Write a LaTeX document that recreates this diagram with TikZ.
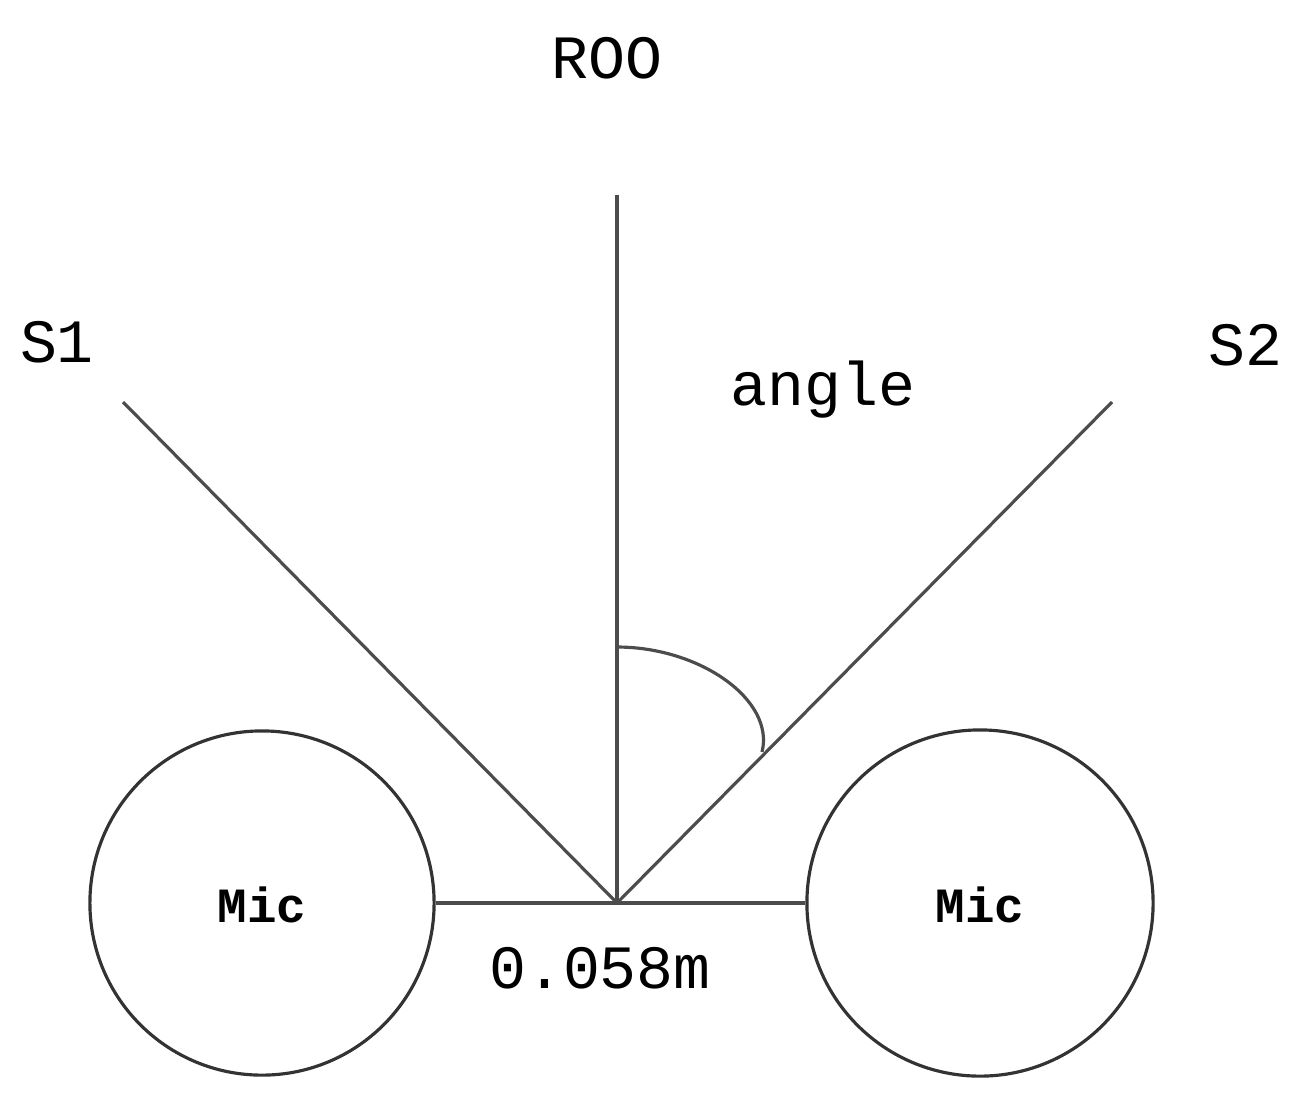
\documentclass[tikz,border=0pt]{standalone}
\usepackage{fontspec}
\setmonofont{Liberation Mono}
\begin{document}
\begin{tikzpicture}[x=0.01cm,y=-0.01cm,
  ln/.style={draw=black!70,line width=0.9pt},
  lbl/.style={font=\ttfamily\fontsize{17.5}{17.5}\selectfont,inner sep=0pt},
  mic/.style={font=\ttfamily\bfseries\fontsize{14}{14}\selectfont,inner sep=0pt}]
\useasboundingbox (0,0) rectangle (1304,1096);
\coordinate (c) at (617,903);
\coordinate (top) at (617,195);
\coordinate (s1e) at (123,402);
\coordinate (s2e) at (1112,402);
\coordinate (a1) at (617,647);
\coordinate (a2) at (762,752);
\node[circle,draw=black!80,line width=0.9pt,inner sep=0pt,minimum size=3.44cm] (m1) at (262,903) {};
\node[circle,draw=black!80,line width=0.9pt,inner sep=0pt,minimum size=3.46cm] (m2) at (980,903) {};
\draw[ln] (top) -- (c);
\draw[ln] (s1e) -- (c);
\draw[ln] (s2e) -- (c);
\draw[ln] (m1.east) -- (m2.west);
\draw[ln] (a1) .. controls (700,647) and (775,700) .. (a2);
\node[lbl] (roo) at (607,58) {ROO};
\node[lbl] (s1) at (57,342) {S1};
\node[lbl] (s2) at (1245,345) {S2};
\node[lbl] (ang) at (823,390) {angle};
\node[lbl] (dist) at (600,968) {0.058m};
\node[mic] (t1) at (262,905) {Mic};
\node[mic] (t2) at (980,905) {Mic};
\end{tikzpicture}
\end{document}
